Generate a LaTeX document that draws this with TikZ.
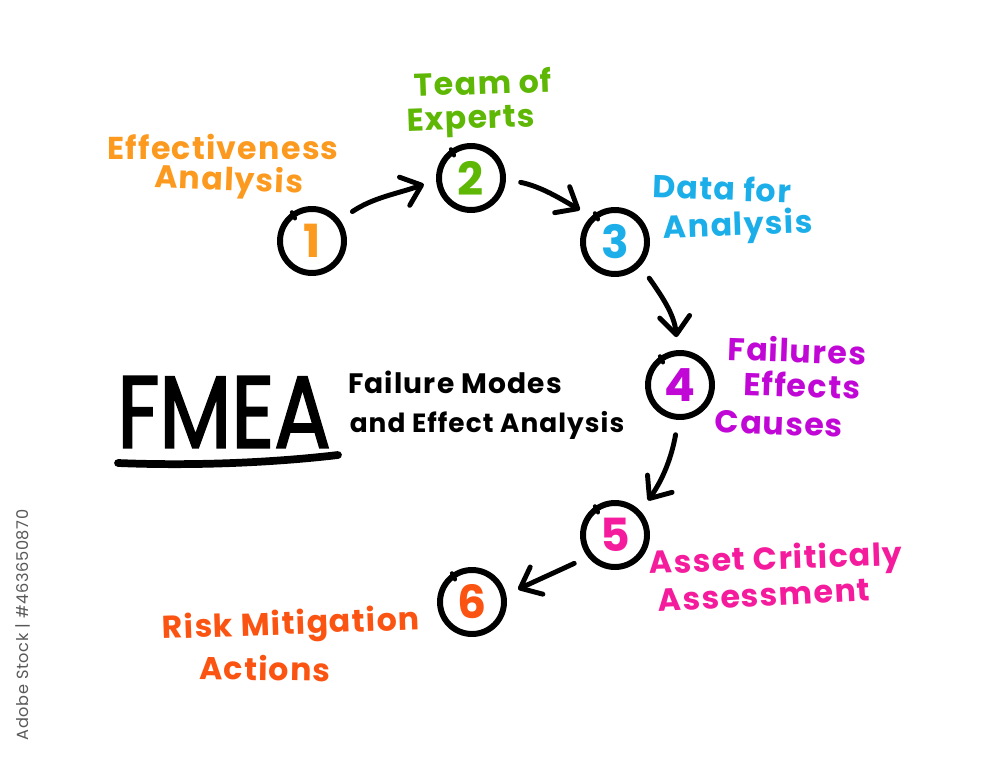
\documentclass[tikz,border=0pt]{standalone}
\usepackage{fontspec}
\setmainfont{Poppins}[LetterSpace=4]
\newfontfamily\titlefont{Poppins}[FakeBold=2.2]
\usetikzlibrary{arrows.meta}
\definecolor{orangeA}{HTML}{FB9A1E}
\definecolor{greenA}{HTML}{5DB704}
\definecolor{blueA}{HTML}{1CAEE8}
\definecolor{purpleA}{HTML}{C107D6}
\definecolor{pinkA}{HTML}{F41C9C}
\definecolor{redA}{HTML}{FB5412}
\tikzset{
  num/.style={circle,draw=black,line width=1.7pt,minimum size=0.64cm,inner sep=0pt,font=\fontsize{13}{13}\selectfont\bfseries},
  lab/.style={inner sep=0pt,font=\fontsize{9}{9}\selectfont\bfseries},
  sub/.style={inner sep=0pt,font=\fontsize{7.5}{7.5}\selectfont\bfseries},
  arr/.style={line width=1.4pt,line cap=round,shorten <=0.15cm,shorten >=0.13cm,-{Straight Barb[length=1.8mm,width=3mm,round,line width=1.4pt]}},
}
\begin{document}
\begin{tikzpicture}
        \useasboundingbox (0,0) rectangle (10,7.56);
        \node[num,text=orangeA](a) at (3.12,5.15) {1};
        \node[num,text=greenA](b) at (4.71,5.78) {2};
        \node[num,text=blueA](c) at (6.15,5.14) {3};
        \node[num,text=purpleA](d) at (6.80,3.71) {4};
        \node[num,text=pinkA](e) at (6.15,2.21) {5};
        \node[num,text=redA](f) at (4.72,1.54) {6};
        \foreach \n in {a,b,c,d,e,f}
          \draw[line width=1.2pt,line cap=round] (\n.125) -- +(0.03,-0.06);
        \draw[arr](a.37) to[out=34,in=200] (b.183);
        \draw[arr](b.-2) to[out=-12,in=150] (c.133);
        \draw[arr](c.-43) to[out=-55,in=95] (d.94);
        \draw[arr](d.-93) to[out=-100,in=55] (e.43);
        \draw[arr](e.219) to[out=205,in=25] (f.12);
        \node[lab,text=orangeA](la) at (2.23,6.09) {Effectiveness};
        \node[lab,text=orangeA,rotate=-2](lb) at (2.29,5.74) {Analysis};
        \node[lab,text=greenA,rotate=2](lc) at (4.83,6.74) {Team of};
        \node[lab,text=greenA,rotate=2](ld) at (4.71,6.34) {Experts};
        \node[lab,text=blueA,rotate=-2](le) at (7.22,5.68) {Data for};
        \node[lab,text=blueA,rotate=2](lf) at (7.38,5.29) {Analysis};
        \node[lab,text=purpleA,rotate=-2](lg) at (7.97,4.06) {Failures};
        \node[lab,text=purpleA,rotate=-2](lh) at (8.02,3.71) {Effects};
        \node[lab,text=purpleA,rotate=-2](li) at (7.79,3.32) {Causes};
        \node[lab,text=pinkA,rotate=2](lj) at (7.76,1.95) {Asset Criticaly};
        \node[lab,text=pinkA,rotate=3](lk) at (7.64,1.61) {Assessment};
        \node[lab,text=redA,rotate=2](ll) at (2.91,1.30) {Risk Mitigation};
        \node[lab,text=redA,rotate=-1](lm) at (2.65,0.88) {Actions};
        \node[inner sep=0pt,xscale=0.82,font=\fontsize{29}{29}\selectfont\titlefont](t) at (2.24,3.44) {FMEA};
        \node[sub,font=\fontsize{8}{8}\selectfont\bfseries](ln) at (4.55,3.74) {Failure Modes};
        \node[sub](lo) at (4.87,3.31) {and Effect Analysis};
        \coordinate (u) at (1.18,2.93);
        \coordinate (v) at (3.38,3.01);
        \draw[line width=2.2pt,line cap=round](u) .. controls (1.9,2.9) and (2.7,2.93) .. (v);
        \node[rotate=90,inner sep=0pt,text=black!65,font=\fontsize{4.6}{4.6}\selectfont](s) at (0.23,1.31) {Adobe Stock | \#463650870};
        \end{tikzpicture}
\end{document}
